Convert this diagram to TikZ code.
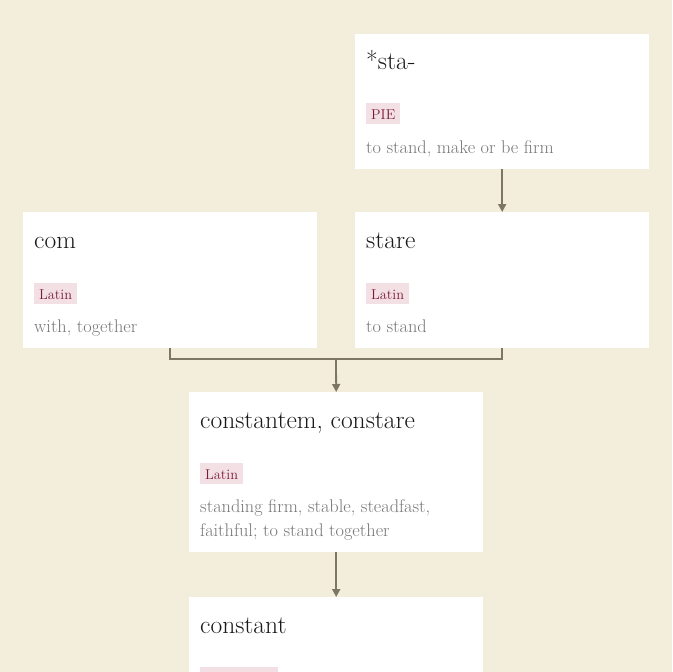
\documentclass[tikz,border=0pt]{standalone}
\usepackage{fontspec}
\usetikzlibrary{arrows.meta}
\definecolor{bgc}{HTML}{F3EDDC}
\definecolor{linec}{HTML}{7D7664}
\definecolor{titlec}{HTML}{1A1A1A}
\definecolor{glossc}{HTML}{767676}
\definecolor{tagbg}{HTML}{F3E0E5}
\definecolor{tagfg}{HTML}{7A1A3A}
\tikzset{
  card/.style={fill=white, draw=none, anchor=north west, inner sep=0pt, minimum width=294pt},
  wordtitle/.style={anchor=base west, inner sep=0pt, text=titlec, font=\fontsize{25.5}{30}\selectfont},
  langtag/.style={anchor=north west, fill=tagbg, text=tagfg, inner xsep=5pt, inner ysep=4pt, text height=12pt, text depth=1pt, font=\fontsize{14.3}{16}\selectfont},
  gloss/.style={anchor=base west, inner sep=0pt, text=glossc, font=\fontsize{18.3}{24.5}\selectfont},
  link/.style={draw=linec, line width=1.8pt},
  arr/.style={link, -{Triangle[width=8pt,length=8pt]}}
}
\begin{document}
\begin{tikzpicture}[x=1pt,y=-1pt]
\useasboundingbox (0,0) rectangle (672,672);
\clip (0,0) rectangle (672,672);
\fill[bgc] (0,0) rectangle (672,672);

% boxes
\node[card, minimum height=135pt] (sta) at (355,34) {};
\node[card, minimum height=136pt] (com) at (23,212) {};
\node[card, minimum height=136pt] (stare) at (355,212) {};
\node[card, minimum height=160pt] (cm) at (189,392) {};
\node[card, minimum height=120pt] (cst) at (189,597) {};

% *sta-
\node[wordtitle] (t1) at (366,69) {*sta-};
\node[langtag] (g1) at (366,103) {PIE};
\node[gloss] (d1) at (366,153) {to stand, make or be firm};

% com
\node[wordtitle] (t2) at (34,248) {com};
\node[langtag] (g2) at (34,283) {Latin};
\node[gloss] (d2) at (34,332) {with, together};

% stare
\node[wordtitle] (t3) at (366,248) {stare};
\node[langtag] (g3) at (366,283) {Latin};
\node[gloss] (d3) at (366,332) {to stand};

% constantem, constare
\node[wordtitle] (t4) at (200,428) {constantem, constare};
\node[langtag] (g4) at (200,463) {Latin};
\node[gloss] (d4a) at (200,512) {standing firm, stable, steadfast,};
\node[gloss] (d4b) at (200,536) {faithful; to stand together};

% constant
\node[wordtitle] (t5) at (200,633) {constant};
\node[langtag] (g5) at (200,667) {Old French};

% connectors
\coordinate (j) at (336,359);
\draw[arr] (sta.south) -- (stare.north);
\draw[link] (com.south) |- (j) -| (stare.south);
\draw[arr] (j) -- (cm.north);
\draw[arr] (cm.south) -- (cst.north);
\end{tikzpicture}
\end{document}
